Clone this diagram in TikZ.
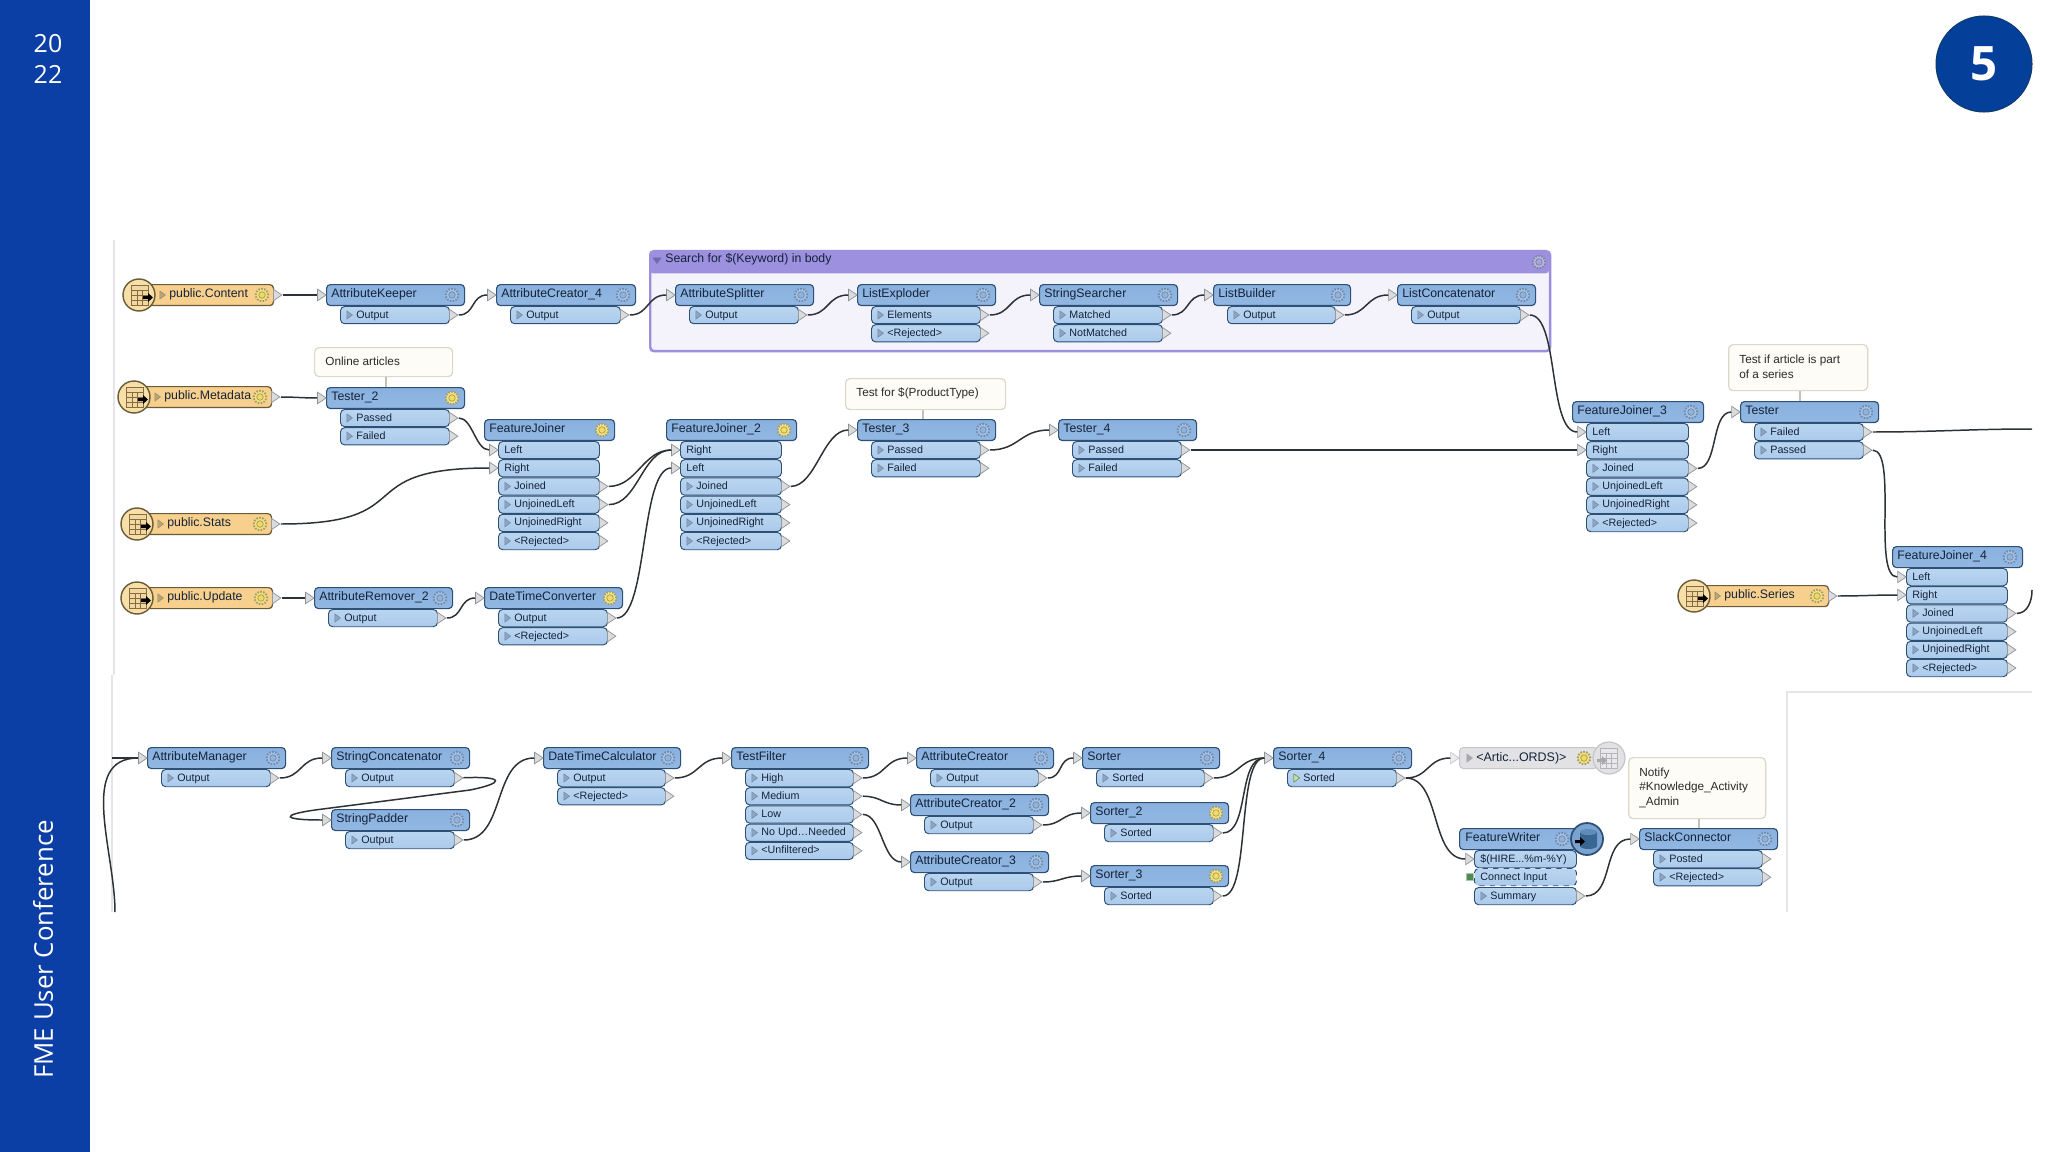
\documentclass[tikz,border=0pt]{standalone}
\usepackage{fontspec}
\setmainfont{Liberation Sans}
\newfontfamily\slidefont{Open Sans}
\usetikzlibrary{shapes.geometric}
\definecolor{slideblue}{HTML}{0B3FA6}
\definecolor{badgeblue}{HTML}{04409A}
\definecolor{badgeedge}{HTML}{123A70}
\definecolor{fmeline}{HTML}{2F5075}
\definecolor{fmetext}{HTML}{14233A}
\definecolor{hdrtop}{HTML}{8AB1DF}
\definecolor{hdrlow}{HTML}{92B7E2}
\definecolor{porttop}{HTML}{B9D5F0}
\definecolor{portlow}{HTML}{ABCAEB}
\definecolor{srcline}{HTML}{6B5A38}
\definecolor{srcfill}{HTML}{F8D08E}
\definecolor{srcbadge}{HTML}{F7DFA8}
\definecolor{srcicon}{HTML}{8A6B3C}
\definecolor{srccell}{HTML}{EFD8A4}
\definecolor{srctip}{HTML}{B5A67C}
\definecolor{srctipline}{HTML}{9A8A60}
\definecolor{gearblue}{HTML}{8FB3DE}
\definecolor{gearyellow}{HTML}{F3DC62}
\definecolor{gearsource}{HTML}{F3D85E}
\definecolor{gearpurple}{HTML}{A8A4D8}
\definecolor{gearedge}{HTML}{4F6278}
\definecolor{notefill}{HTML}{FDFCF6}
\definecolor{noteline}{HTML}{DAD8CA}
\definecolor{notetailc}{HTML}{C4C2B4}
\definecolor{notefont}{HTML}{2A2A2A}
\definecolor{tipline}{HTML}{8E9296}
\definecolor{tipfill}{HTML}{DADBDC}
\definecolor{ptipline}{HTML}{6E88A8}
\definecolor{ptipfill}{HTML}{8FA4BF}
\definecolor{wirec}{HTML}{2E3236}
\definecolor{framec}{HTML}{E4E4EA}
\definecolor{groupline}{HTML}{9A8EDD}
\definecolor{groupfill}{HTML}{F4F3FC}
\definecolor{groupband}{HTML}{9C90DF}
\definecolor{grouptip}{HTML}{6E6BB0}
\definecolor{greenline}{HTML}{6C9A50}
\definecolor{greenfill}{HTML}{BFE0A8}
\definecolor{connfill}{HTML}{4E8A52}
\definecolor{connline}{HTML}{A8C8A8}
\definecolor{grayfill}{HTML}{E2E2E4}
\definecolor{grayline}{HTML}{C6C6CA}
\definecolor{grayicon}{HTML}{B4B4B8}
\definecolor{graycell}{HTML}{E9E9EB}
\definecolor{graydark}{HTML}{A8A8AC}
\definecolor{graytip}{HTML}{ECECEE}
\definecolor{fwbadge}{HTML}{7BA3D2}
\definecolor{fwcyl}{HTML}{3A6792}
\definecolor{fwcyltop}{HTML}{5E8DBB}
\begin{document}
\begin{tikzpicture}[x=0.02cm, y=-0.02cm,
    hdr/.style={draw=fmeline, line width=0.65pt, rounded corners=2.2pt, top color=hdrtop, bottom color=hdrlow, anchor=north west, minimum height=0.42cm, inner sep=0pt},
    port/.style={draw=fmeline, line width=0.55pt, rounded corners=2.4pt, top color=porttop, bottom color=portlow, anchor=north west, minimum height=0.345cm, inner sep=0pt},
    source/.style={draw=srcline, line width=0.7pt, rounded corners=2.2pt, fill=srcfill, anchor=north west, minimum height=0.42cm, inner sep=0pt},
    badge/.style={circle, draw=srcline, line width=0.8pt, fill=srcbadge, minimum size=0.64cm, inner sep=0pt},
    hdrtext/.style={anchor=west, inner sep=0pt, font=\fontsize{7}{8}\selectfont, text=fmetext, text height=1.5ex, text depth=0.3ex},
    porttext/.style={anchor=west, inner sep=0pt, font=\fontsize{6.1}{7}\selectfont, text=fmetext, text height=1.5ex, text depth=0.3ex},
    notetext/.style={anchor=west, inner sep=0pt, align=left, font=\fontsize{6.7}{8.3}\selectfont, text=notefont},
    note/.style={draw=noteline, line width=0.7pt, rounded corners=2.5pt, fill=notefill, anchor=north west, inner sep=0pt},
    notetail/.style={draw=notetailc, line width=0.7pt},
    tip/.style={isosceles triangle, isosceles triangle stretches, draw=tipline, line width=0.4pt, fill=tipfill, minimum width=0.23cm, minimum height=0.17cm, inner sep=0pt},
    porttip/.style={isosceles triangle, isosceles triangle stretches, draw=ptipline, line width=0.3pt, fill=ptipfill, minimum width=0.16cm, minimum height=0.11cm, inner sep=0pt},
    gearout/.style={circle, draw=#1!50!gearedge, fill=#1!80!white, line width=1.1pt, dash pattern=on 0.9pt off 0.8pt, minimum size=0.25cm, inner sep=0pt},
    gearin/.style={circle, draw=#1!50!gearedge, fill=#1, line width=0.4pt, minimum size=0.13cm, inner sep=0pt},
    wire/.style={draw=wirec, line width=0.85pt},
    frame/.style={draw=framec, line width=0.6pt},
    tableicon/.pic={
        \draw[pic actions] (-8,-10) rectangle (9,10);
        \draw[pic actions] (-8,-5) -- (9,-5) (-8,0) -- (9,0) (-8,5) -- (9,5) (-2,-5) -- (-2,10) (3,-5) -- (3,10);
    },
    iconarrow/.pic={
        \fill[pic actions] (4,1) -- (9,1) -- (9,-2) -- (14,2.5) -- (9,7) -- (9,4) -- (4,4) -- cycle;
    }
  ]
    \useasboundingbox (0,0) rectangle (2048,1152);
    \fill[white] (0,0) rectangle (2048,1152);

    % slide furniture
    \node[fill=slideblue, minimum width=1.8cm, minimum height=23.04cm, anchor=north west, inner sep=0pt] (bar) at (0,0) {};
    \node[text=white, align=center, font=\slidefont\fontsize{14.2}{17.4}\selectfont] (year) at (48,59) {20\\22};
    \node[text=white, rotate=90, anchor=west, inner sep=0pt, font=\slidefont\fontsize{14.7}{17}\selectfont] (conf) at (43,1079) {FME User Conference};
    \node[circle, fill=badgeblue, draw=badgeedge, line width=0.6pt, minimum size=1.92cm, inner sep=0pt, text=white, font=\slidefont\bfseries\fontsize{27}{30}\selectfont] (number) at (1984,64) {5};

    % edges of the screenshot
    \draw[frame] (114,240) -- (114,675);
    \draw[frame] (112,675) -- (112,912);
    \draw[frame] (1787,912) -- (1787,692) -- (2032,692);

    % bookmark behind the search transformers
    \node[draw=groupline, line width=1.4pt, rounded corners=2.2pt, fill=groupfill, anchor=north west, minimum width=18cm, minimum height=2cm, inner sep=0pt] (search) at (649,250) {};
    \node[fill=groupband, rounded corners=2pt, anchor=north west, minimum width=18cm, minimum height=0.46cm, inner sep=0pt] (searchband) at (649,250) {};
    \node[porttip, rotate=-90, fill=grouptip, draw=grouptip] (searchtip) at (657,260) {};
    \node[porttext, font=\fontsize{7}{8}\selectfont] (searchtext) at (665,257) {Search for \$(Keyword) in body};
    \node[gearout=gearpurple] (searchgear) at (1539,262) {};
    \node[gearin=gearpurple] (searchgearin) at (1539,262) {};

    % readers and other source nodes
    \foreach \nam/\cx/\y/\xr/\ttl in {cont/139/284/273/public.Content, meta/134/386/271/public.Metadata, stat/137/513/271/public.Stats, upd/137/587/272/public.Update, ser/1694/585/1828/public.Series} {
        \node[source, minimum width={(\xr-\cx)*0.02cm}] (\nam) at (\cx,\y) {};
        \node[badge] (\nam-c) at (\cx,\y+11) {};
        \pic[draw=srcicon, fill=srccell, line width=0.4pt] at (\nam-c) {tableicon};
        \pic[fill=black] at (\nam-c) {iconarrow};
        \node[porttip, draw=srctipline, fill=srctip] (\nam-t) at (\cx+23,\y+11) {};
        \node[hdrtext] (\nam-n) at (\cx+30,\y+8) {\ttl};
        \node[gearout=gearsource] (\nam-g) at (\xr-11,\y+11) {};
        \node[gearin=gearsource] (\nam-h) at (\xr-11,\y+11) {};
        \node[tip, anchor=west] (\nam-o) at (\xr,\y+11) {};
    }

    % transformers: name/x/y/width/title/gear/number of input ports/output ports
    \foreach \nam/\x/\y/\w/\ttl/\gc/\sk/\pl in {
        ak/326/284/138/AttributeKeeper/gearblue/0/{Output},
        ac4/496/284/139/AttributeCreator\_4/gearblue/0/{Output},
        as/675/284/138/AttributeSplitter/gearblue/0/{Output},
        le/857/284/138/ListExploder/gearblue/0/{Elements,<Rejected>},
        ss/1039/284/138/StringSearcher/gearblue/0/{Matched,NotMatched},
        lb/1213/284/137/ListBuilder/gearblue/0/{Output},
        lc/1397/284/138/ListConcatenator/gearblue/0/{Output},
        t2/326/387/138/Tester\_2/gearyellow/0/{Passed,Failed},
        fj/484/419/130/FeatureJoiner/gearyellow/2/{Joined,UnjoinedLeft,UnjoinedRight,<Rejected>},
        fj2/666/419/130/FeatureJoiner\_2/gearyellow/2/{Joined,UnjoinedLeft,UnjoinedRight,<Rejected>},
        t3/857/419/138/Tester\_3/gearblue/0/{Passed,Failed},
        t4/1058/419/138/Tester\_4/gearblue/0/{Passed,Failed},
        fj3/1572/401/131/FeatureJoiner\_3/gearblue/2/{Joined,UnjoinedLeft,UnjoinedRight,<Rejected>},
        te/1740/401/138/Tester/gearblue/0/{Failed,Passed},
        fj4/1892/546/130/FeatureJoiner\_4/gearblue/2/{Joined,UnjoinedLeft,UnjoinedRight,<Rejected>},
        ar2/314/587/138/AttributeRemover\_2/gearblue/0/{Output},
        dtc/484/587/138/DateTimeConverter/gearyellow/0/{Output,<Rejected>},
        am/147/747/138/AttributeManager/gearblue/0/{Output},
        sc/331/747/138/StringConcatenator/gearblue/0/{Output},
        sp/331/809/138/StringPadder/gearblue/0/{Output},
        dc/543/747/137/DateTimeCalculator/gearblue/0/{Output,<Rejected>},
        tf/731/747/137/TestFilter/gearblue/0/{High,Medium,Low,No Upd\ldots{}Needed,<Unfiltered>},
        ac/916/747/137/AttributeCreator/gearblue/0/{Output},
        ac2/910/794/138/AttributeCreator\_2/gearblue/0/{Output},
        ac3/910/851/138/AttributeCreator\_3/gearblue/0/{Output},
        so/1082/747/137/Sorter/gearblue/0/{Sorted},
        so2/1090/802/138/Sorter\_2/gearyellow/0/{Sorted},
        so3/1090/865/138/Sorter\_3/gearyellow/0/{Sorted},
        so4/1273/747/138/Sorter\_4/gearblue/0/{Sorted},
        sl/1639/828/138/SlackConnector/gearblue/0/{Posted,<Rejected>}} {
        \node[hdr, minimum width={\w*0.02cm}] (\nam) at (\x,\y) {};
        \node[hdrtext] (\nam-n) at (\x+5,\y+8) {\ttl};
        \node[gearout=\gc] (\nam-g) at (\x+\w-12,\y+11) {};
        \node[gearin=\gc] (\nam-h) at (\x+\w-12,\y+11) {};
        \ifnum\sk=0
            \node[tip, anchor=east] (\nam-i) at (\x+1,\y+11) {};
        \fi
        \foreach \p [count=\j] in \pl {
            \node[port, minimum width={(\w-29)*0.02cm}] (\nam-p\j) at (\x+14,\y+22+18.2*\sk+18.2*\j-18.2) {};
            \node[porttip] (\nam-t\j) at (\x+23,\y+31+18.2*\sk+18.2*\j-18.2) {};
            \node[porttext] (\nam-n\j) at (\x+30,\y+28.5+18.2*\sk+18.2*\j-18.2) {\p};
            \node[tip, anchor=west] (\nam-o\j) at (\x+\w-15,\y+31+18.2*\sk+18.2*\j-18.2) {};
        }
    }

    % input ports of the joiners
    \foreach \nam/\x/\y/\w/\ia/\ib/\na/\nb in {fj/484/419/130/l/r/Left/Right, fj2/666/419/130/r/l/Right/Left, fj3/1572/401/131/l/r/Left/Right, fj4/1892/546/130/l/r/Left/Right} {
        \node[port, minimum width={(\w-29)*0.02cm}] (\nam-a) at (\x+14,\y+22) {};
        \node[port, minimum width={(\w-29)*0.02cm}] (\nam-b) at (\x+14,\y+40.2) {};
        \node[porttext] (\nam-na) at (\x+20,\y+28.5) {\na};
        \node[porttext] (\nam-nb) at (\x+20,\y+46.7) {\nb};
        \node[tip, anchor=east] (\nam-\ia) at (\x+15,\y+31) {};
        \node[tip, anchor=east] (\nam-\ib) at (\x+15,\y+49) {};
    }

    % green tip on the sorted port
    \node[porttip, draw=greenline, fill=greenfill] (so4-green) at (so4-t1) {};

    % writers
    \node[fill=grayfill, draw=grayline, line width=0.6pt, rounded corners=2.2pt, anchor=north west, minimum width=2.76cm, minimum height=0.42cm, inner sep=0pt] (artic) at (1459,747) {};
    \node[circle, fill=grayfill, draw=grayline, line width=0.7pt, minimum size=0.64cm, inner sep=0pt] (artic-c) at (1609,758) {};
    \pic[draw=grayicon, fill=graycell, line width=0.4pt] at ([xshift=-0.02cm]artic-c) {tableicon};
    \pic[fill=graydark] at ([xshift=-0.32cm]artic-c) {iconarrow};
    \node[porttip, draw=graydark, fill=graydark] (artic-t) at (1469,758) {};
    \node[hdrtext, font=\fontsize{7.1}{8}\selectfont] (artic-n) at (1476,756) {<Artic...ORDS)>};
    \node[gearout=gearsource] (artic-g) at (1584,758) {};
    \node[gearin=gearsource] (artic-h) at (1584,758) {};
    \node[tip, anchor=east, draw=grayline, fill=graytip] (artic-i) at (1460,758) {};

    \node[hdr, minimum width=2.4cm] (fw) at (1459,828) {};
    \node[hdrtext] (fw-n) at (1465,836) {FeatureWriter};
    \node[gearout=gearblue] (fw-g) at (1562,839) {};
    \node[gearin=gearblue] (fw-h) at (1562,839) {};
    \node[circle, fill=fwbadge, draw=fmeline, line width=1pt, minimum size=0.64cm, inner sep=0pt] (fw-c) at (1587,839) {};
    \fill[fwcyl, shift={(fw-c)}] (-7,-7) -- (-7,7) arc[start angle=180, end angle=360, x radius=0.17cm, y radius=0.06cm] -- (10,-7) -- cycle;
    \fill[fwcyltop, shift={(fw-c)}] (1.5,-7) ellipse[x radius=0.17cm, y radius=0.06cm];
    \pic[fill=black] at ([xshift=-0.32cm]fw-c) {iconarrow};
    \node[port, minimum width=2.04cm] (fw-p1) at (1474,850) {};
    \node[port, minimum width=2.04cm, dashed] (fw-p2) at (1474,868) {};
    \node[port, minimum width=2.04cm] (fw-p3) at (1474,887) {};
    \node[porttext] (fw-n1) at (1480,856.5) {\$(HIRE...\%m-\%Y)};
    \node[porttext] (fw-n2) at (1480,874.5) {Connect Input};
    \node[porttip] (fw-t3) at (1483,896) {};
    \node[porttext] (fw-n3) at (1490,893.5) {Summary};
    \node[tip, anchor=east] (fw-i) at (1475,859) {};
    \node[fill=connfill, draw=connline, line width=0.5pt, minimum width=0.14cm, minimum height=0.14cm, inner sep=0pt] (fw-conn) at (1470,877) {};
    \node[tip, anchor=west] (fw-o) at (1576,896) {};

    % annotations: name/x/y/width/height/text/tail x/target
    \foreach \nam/\x/\y/\w/\h/\txt/\tx/\trg in {
        noa/314/347/138/29/{Online articles}/386/t2,
        nob/845/378/160/31/{Test for \$(ProductType)}/923/t3,
        noc/1728/344/139/46/{Test if article is part\\of a series}/1800/te,
        nod/1628/757/137/61/{Notify\\\#Knowledge\_Activity\\\_Admin}/1699/sl} {
        \node[note, minimum width={\w*0.02cm}, minimum height={\h*0.02cm}] (\nam) at (\x,\y) {};
        \node[notetext] (\nam-n) at (\x+11,\y+\h/2) {\txt};
        \draw[notetail] (\nam.south -| \tx,0) -- (\trg.north -| \tx,0);
    }

    % open ends
    \coordinate (failend) at (2032,429);
    \coordinate (joinend) at (2032,590);
    \coordinate (inleft) at (112,758);
    \coordinate (inlow) at (115,912);

    % connections: from/to/looseness
    \foreach \a/\b/\lo in {cont-o/ak-i/1, ak-o1/ac4-i/1.2, ac4-o1/as-i/1.2, as-o1/le-i/1.2, le-o1/ss-i/1.2, ss-o1/lb-i/1.2, lb-o1/lc-i/1.2, lc-o1/fj3-l/0.6,
        meta-o/t2-i/1, t2-o1/fj-l/0.8, stat-o/fj-r/1.7, fj-o1/fj2-r/1, fj-o2/fj2-r/0.9, upd-o/ar2-i/1, ar2-o1/dtc-i/1.2, dtc-o1/fj2-l/0.5,
        fj2-o1/t3-i/0.8, t3-o1/t4-i/1.2, t4-o1/fj3-r/1, fj3-o1/te-i/0.8, te-o1/failend/1, te-o2/fj4-l/0.5, ser-o/fj4-r/1,
        inleft/am-i/1, am-o1/sc-i/1.2, sp-o1/dc-i/1, dc-o1/tf-i/1.2, tf-o1/ac-i/1.2, tf-o2/ac2-i/1.2, tf-o3/ac3-i/0.8,
        ac-o1/so-i/1.2, ac2-o1/so2-i/1.2, ac3-o1/so3-i/1.2, so-o1/so4-i/1.2, so2-o1/so4-i/0.8, so3-o1/so4-i/0.5,
        so4-o1/artic-i/1.2, so4-o1/fw-i/0.9, fw-o/sl-i/1} {
        \draw[wire] (\a) to[out=0, in=180, looseness=\lo] (\b);
    }
    \draw[wire] (fj4-o1) to[out=0, in=-90] (joinend);
    \draw[wire] (inlow) to[out=90, in=180] (am-i);
    \draw[wire] (sc-o1) .. controls (505,776) and (505,783) .. (470,790) -- (315,810) .. controls (280,815) and (282,820) .. (sp-i);
\end{tikzpicture}
\end{document}
